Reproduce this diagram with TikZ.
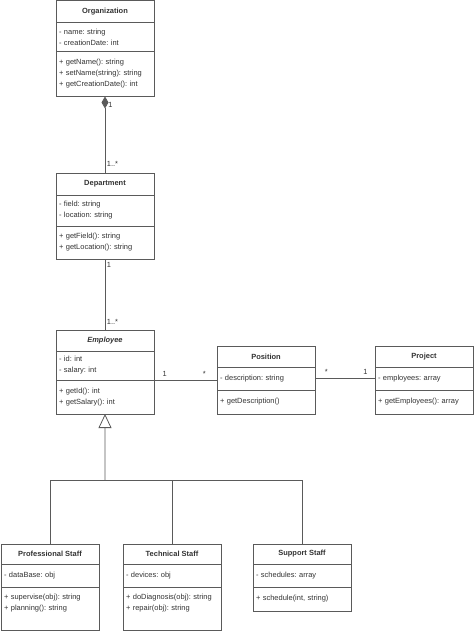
\documentclass[tikz,border=0pt]{standalone}
\usepackage{fontspec}
\setmainfont{Liberation Sans}
\usetikzlibrary{arrows.meta,positioning}
\definecolor{umlline}{HTML}{5A5A5A}
\definecolor{umltext}{HTML}{333333}
\frenchspacing

\begin{document}
\begin{tikzpicture}[
    x=1bp, y=-1bp,
    every node/.style={font=\fontsize{7.5}{11}\selectfont, text=umltext},
    ctitle/.style={draw=umlline, line width=0.8bp, fill=white, minimum width=98bp, inner sep=0pt, outer sep=0pt, anchor=north west, font=\fontsize{7.5}{11}\selectfont\bfseries},
    cpart/.style={draw=umlline, line width=0.8bp, fill=white, text width=92bp, inner xsep=3bp, inner ysep=0pt, outer sep=0pt, align=left},
    line/.style={draw=umlline, line width=0.8bp},
    mult/.style={inner sep=1.5bp, font=\fontsize{7.5}{9}\selectfont}
  ]
    \useasboundingbox (0,0) rectangle (474,632);

    % top chain
    \node[ctitle, minimum height=22bp] (org) at (56,0.5) {Organization};
    \node[cpart, minimum height=29bp, below=0pt of org] (org-a) {- name: string\\- creationDate: int};
    \node[cpart, minimum height=45bp, below=0pt of org-a] (org-m) {+ getName(): string\\+ setName(string): string\\+ getCreationDate(): int};

    \node[ctitle, minimum height=22bp] (dep) at (56,173) {Department};
    \node[cpart, minimum height=31bp, below=0pt of dep] (dep-a) {- field: string\\- location: string};
    \node[cpart, minimum height=33bp, below=0pt of dep-a] (dep-m) {+ getField(): string\\+ getLocation(): string};

    \node[ctitle, minimum height=21bp] (emp) at (56,330) {\textit{Employee}};
    \node[cpart, minimum height=29bp, below=0pt of emp] (emp-a) {- id: int\\- salary: int};
    \node[cpart, minimum height=34bp, below=0pt of emp-a] (emp-m) {+ getId(): int\\+ getSalary(): int};

    % right side
    \node[ctitle, minimum height=21bp] (pos) at (217,346) {Position};
    \node[cpart, minimum height=23bp, below=0pt of pos] (pos-a) {- description: string};
    \node[cpart, minimum height=24bp, below=0pt of pos-a] (pos-m) {+ getDescription()};

    \node[ctitle, minimum height=21bp] (prj) at (375,346) {Project};
    \node[cpart, minimum height=23bp, below=0pt of prj] (prj-a) {- employees: array};
    \node[cpart, minimum height=24bp, below=0pt of prj-a] (prj-m) {+ getEmployees(): array};

    % subclasses
    \node[ctitle, minimum height=20bp] (prof) at (1,544) {Professional Staff};
    \node[cpart, minimum height=23bp, below=0pt of prof] (prof-a) {- dataBase: obj};
    \node[cpart, minimum height=43bp, below=0pt of prof-a] (prof-m) {+ supervise(obj): string\\+ planning(): string\rule[-13bp]{0pt}{0pt}};

    \node[ctitle, minimum height=20bp] (tech) at (123,544) {Technical Staff};
    \node[cpart, minimum height=23bp, below=0pt of tech] (tech-a) {- devices: obj};
    \node[cpart, minimum height=43bp, below=0pt of tech-a] (tech-m) {+ doDiagnosis(obj): string\\+ repair(obj): string\rule[-13bp]{0pt}{0pt}};

    \node[ctitle, minimum height=20bp] (supp) at (253,544) {Support Staff};
    \node[cpart, minimum height=23bp, below=0pt of supp] (supp-a) {- schedules: array};
    \node[cpart, minimum height=24bp, below=0pt of supp-a] (supp-m) {+ schedule(int, string)};

    % associations
    \draw[line, {Diamond[length=12bp, width=7bp]}-] (org-m.south) -- (dep.north)
        node[mult, right=1.5bp, pos=0.11] {1} node[mult, right, pos=0.88] {1..*};
    \draw[line] (dep-m.south) -- (emp.north)
        node[mult, right, pos=0.09] {1} node[mult, right, pos=0.89] {1..*};
    \coordinate (posin) at (emp-a.south east -| pos-a.west);
    \draw[line] (emp-a.south east) -- (posin)
        node[mult, above=2bp, pos=0.17] {1} node[mult, above=2bp, pos=0.8] {*};
    \draw[line] (pos-a.east) -- (prj-a.west)
        node[mult, above=2bp, pos=0.19] {*} node[mult, above=2bp, pos=0.84] {1};

    % generalization
    \coordinate (bar) at (105,480);
    \draw[line, -{Triangle[open, length=14bp, width=13bp]}] (bar) -- (emp-m.south);
    \draw[line] (prof.north) |- (bar);
    \draw[line] (tech.north) |- (bar);
    \draw[line] (supp.north) |- (bar);
  \end{tikzpicture}
\end{document}
